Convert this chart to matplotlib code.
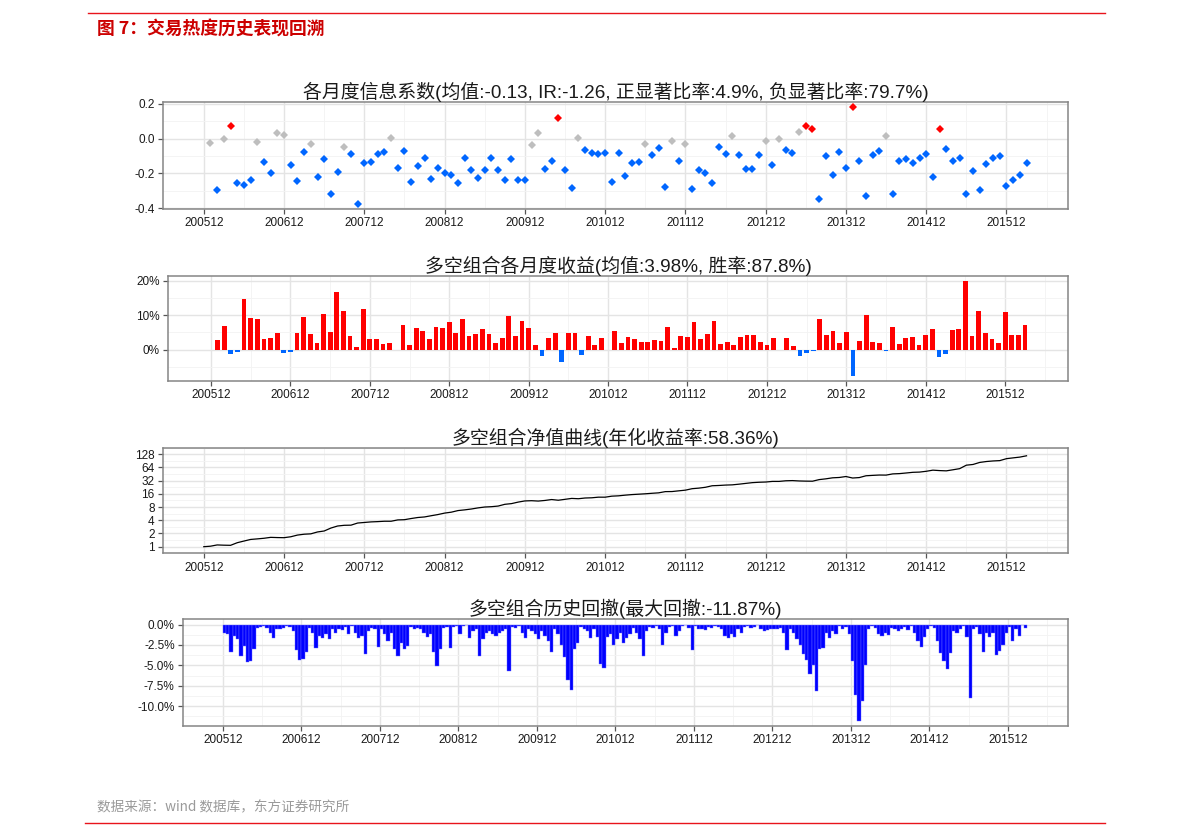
import matplotlib
matplotlib.use('Agg')
import matplotlib.pyplot as plt
from matplotlib.ticker import FuncFormatter, NullFormatter
import numpy as np

plt.rcParams['font.family'] = ['Liberation Sans', 'Noto Sans CJK SC']
plt.rcParams['axes.unicode_minus'] = False

# x positions: month index, 0 = 2005-12, 1 = 2006-01 ... 123 = 2016-03
year_ticks = [0, 12, 24, 36, 48, 60, 72, 84, 96, 108, 120]
year_labels = ['200512', '200612', '200712', '200812', '200912', '201012',
               '201112', '201212', '201312', '201412', '201512']

# monthly IC, 2006-01 .. 2016-03
ic_values = [
    -0.025, -0.297, -0.004, 0.074, -0.253, -0.267, -0.236, -0.019, -0.137, -0.198, 0.030, 0.021,
    -0.152, -0.242, -0.076, -0.029, -0.219, -0.120, -0.320, -0.192, -0.048, -0.091, -0.375, -0.141,
    -0.137, -0.086, -0.076, 0.002, -0.170, -0.070, -0.250, -0.158, -0.114, -0.230, -0.170, -0.196,
    -0.210, -0.253, -0.109, -0.181, -0.225, -0.181, -0.114, -0.181, -0.236, -0.120, -0.236, -0.236,
    -0.038, 0.030, -0.175, -0.130, 0.118, -0.181, -0.282, 0.002, -0.065, -0.082, -0.091, -0.082,
    -0.248, -0.082, -0.213, -0.141, -0.135, -0.029, -0.093, -0.053, -0.280, -0.013, -0.126, -0.034,
    -0.288, -0.179, -0.196, -0.253, -0.048, -0.086, 0.013, -0.093, -0.173, -0.173, -0.093, -0.015,
    -0.149, 0.000, -0.065, -0.082, 0.040, 0.069, 0.057, -0.347, -0.099, -0.208, -0.076, -0.168,
    0.179, -0.130, -0.326, -0.093, -0.070, 0.013, -0.318, -0.130, -0.120, -0.141, -0.109, -0.086,
    -0.219, 0.057, -0.059, -0.126, -0.114, -0.318, -0.185, -0.292, -0.147, -0.114, -0.099, -0.270,
    -0.236, -0.208, -0.141,
]
# 1 = positively significant, -1 = negatively significant, 0 = not significant
ic_sig = [
    0, -1, 0, 1, -1, -1, -1, 0, -1, -1, 0, 0,
    -1, -1, -1, 0, -1, -1, -1, -1, 0, -1, -1, -1,
    -1, -1, -1, 0, -1, -1, -1, -1, -1, -1, -1, -1,
    -1, -1, -1, -1, -1, -1, -1, -1, -1, -1, -1, -1,
    0, 0, -1, -1, 1, -1, -1, 0, -1, -1, -1, -1,
    -1, -1, -1, -1, -1, 0, -1, -1, -1, 0, -1, 0,
    -1, -1, -1, -1, -1, -1, 0, -1, -1, -1, -1, 0,
    -1, 0, -1, -1, 0, 1, 1, -1, -1, -1, -1, -1,
    1, -1, -1, -1, -1, 0, -1, -1, -1, -1, -1, -1,
    -1, 1, -1, -1, -1, -1, -1, -1, -1, -1, -1, -1,
    -1, -1, -1,
]

# long-short monthly return (%), 2006-01 .. 2016-03
ret_values = [
    2.7, 6.8, -1.3, -0.7, 14.7, 9.1, 8.8, 3.0, 3.3, 4.9, -1.1, -0.6,
    4.9, 9.3, 4.6, 2.0, 10.4, 5.2, 16.7, 11.3, 3.8, 0.7, 11.9, 3.0,
    3.0, 1.5, 2.0, 0.02, 7.2, 1.2, 6.3, 5.5, 3.0, 6.6, 6.3, 8.0,
    4.9, 8.8, 3.8, 4.6, 6.1, 4.6, 1.8, 3.3, 9.6, 3.8, 8.3, 6.3,
    1.2, -1.9, 3.3, 4.9, -3.6, 4.9, 4.9, -1.6, 3.8, 1.2, 3.3, -0.1,
    5.5, 1.8, 3.6, 3.0, 2.1, 2.1, 2.7, 2.4, 6.6, 0.4, 3.8, 3.6,
    8.0, 3.0, 4.6, 8.3, 1.5, 2.1, 1.2, 3.6, 4.1, 4.1, 2.1, 1.2,
    3.3, 0.02, 3.3, 1.0, -1.9, -0.9, -0.4, 8.8, 4.1, 5.5, 1.8, 5.2,
    -7.6, 2.4, 9.9, 2.1, 1.8, -0.4, 6.6, 1.5, 3.3, 3.6, 1.2, 4.3,
    6.1, -2.2, -1.4, 5.8, 6.1, 20.0, 3.8, 11.3, 4.9, 3.0, 1.8, 10.8,
    4.3, 4.1, 7.1,
]

# drawdown (%), two readings per month, 2006-01 .. 2016-03
dd_values = [
    -1.0, -1.2, -3.3, -1.4, -1.8, -3.9, -2.6, -4.6, -4.5, -3.0, -0.4, -0.3,
    -0.2, -0.4, -1.0, -1.6, -0.5, -0.6, -0.4, -0.2, -0.3, -0.8, -3.1, -4.4,
    -4.2, -3.3, -0.4, -1.0, -2.9, -1.4, -1.6, -1.2, -1.8, -0.6, -1.0, -0.5,
    -0.7, -0.3, -1.2, -0.2, -1.0, -1.6, -1.4, -3.6, -0.8, -0.4, -0.5, -2.8,
    -0.5, -1.2, -2.0, -1.0, -3.0, -3.8, -2.2, -3.0, -2.6, -0.3, -0.5, -0.4,
    -0.6, -1.0, -1.5, -1.2, -3.3, -5.1, -3.0, -0.4, -0.3, -2.9, -0.3, -0.2,
    -1.2, -0.2, -0.1, -1.6, -0.8, -0.6, -3.8, -1.8, -1.0, -0.8, -1.2, -1.4,
    -1.0, -0.8, -0.6, -5.7, -0.3, -0.4, -0.2, -1.0, -1.6, -0.6, -0.8, -1.2,
    -1.8, -0.8, -1.4, -2.0, -3.3, -0.6, -1.2, -2.5, -4.0, -6.8, -8.0, -3.0,
    -2.3, -0.3, -0.5, -0.8, -1.6, -0.6, -1.5, -4.8, -5.3, -1.5, -1.2, -2.5,
    -1.8, -1.0, -2.3, -1.6, -1.2, -0.4, -1.0, -1.8, -3.9, -0.8, -0.3, -0.4,
    -0.2, -0.5, -2.5, -1.0, -0.3, -0.2, -1.4, -0.8, -0.2, -0.1, -0.4, -3.1,
    -0.2, -0.6, -0.5, -0.7, -0.3, -0.4, -0.2, -0.3, -0.6, -1.4, -1.6, -1.2,
    -1.5, -0.6, -1.0, -0.3, -0.2, -0.4, -0.3, -0.1, -0.6, -0.8, -0.7, -0.5,
    -0.5, -0.6, -0.4, -1.0, -3.1, -0.6, -1.0, -1.8, -2.5, -3.6, -4.4, -6.1,
    -5.0, -8.2, -3.0, -2.9, -1.0, -1.6, -0.8, -1.2, -0.2, -0.5, -0.3, -1.2,
    -4.5, -8.6, -11.87, -9.4, -5.0, -0.5, -0.2, -0.4, -1.2, -1.4, -1.0, -1.3,
    -0.4, -0.6, -0.8, -0.5, -0.3, -0.7, -0.2, -1.0, -2.0, -2.7, -1.5, -0.6,
    -0.2, -0.4, -2.0, -3.5, -4.5, -5.5, -3.5, -0.8, -1.0, -0.6, -0.2, -1.5,
    -9.0, -0.5, -0.3, -1.2, -3.3, -1.0, -1.5, -1.0, -3.7, -3.2, -2.5, -1.0,
    -0.3, -2.0, -0.6, -1.4, -0.05, -0.4,
]

title_ic = '各月度信息系数(均值:-0.13, IR:-1.26, 正显著比率:4.9%, 负显著比率:79.7%)'
title_ret = '多空组合各月度收益(均值:3.98%, 胜率:87.8%)'
title_nav = '多空组合净值曲线(年化收益率:58.36%)'
title_dd = '多空组合历史回撤(最大回撤:-11.87%)'

RED = '#FF0000'
BLUE = '#0066FF'
GRAY = '#BEBEBE'


def style_axis(ax, title, xlim=(-6.1, 129.2)):
    for sp in ax.spines.values():
        sp.set_color('#858585')
        sp.set_linewidth(1.1)
    ax.set_xlim(*xlim)
    ax.set_xticks(year_ticks)
    ax.set_xticklabels(year_labels)
    ax.set_xticks(np.arange(6, 130, 12), minor=True)
    ax.xaxis.set_minor_formatter(NullFormatter())
    ax.grid(which='major', color='#E4E4E4', linewidth=1.0)
    ax.grid(which='minor', color='#F3F3F3', linewidth=0.6)
    ax.set_axisbelow(True)
    ax.tick_params(which='major', length=3.5, width=0.9, color='#555555',
                   labelsize=8.5, labelcolor='#1a1a1a', pad=2.5)
    ax.tick_params(which='minor', length=0)
    ax.set_title(title, fontsize=13.6, color='#1a1a1a', pad=3)


fig = plt.figure(figsize=(11.91, 8.35), dpi=100)

# panel 1: monthly IC
ax1 = fig.add_axes([163 / 1191, 1 - 209 / 835, 905 / 1191, 106.7 / 835])
months = np.arange(1, len(ic_values) + 1)
ic = np.array(ic_values)
sig = np.array(ic_sig)
for code, col in [(0, GRAY), (-1, BLUE), (1, RED)]:
    m = sig == code
    ax1.plot(months[m], ic[m], 'D', color=col, markersize=4.2, markeredgewidth=0, zorder=3)
ax1.set_ylim(-0.403, 0.207)
ax1.set_yticks([-0.4, -0.2, 0.0, 0.2])
ax1.set_yticks([-0.3, -0.1, 0.1], minor=True)
ax1.yaxis.set_major_formatter(FuncFormatter(lambda v, p: '%.1f' % v))
style_axis(ax1, title_ic)

# panel 2: monthly long-short return
ax2 = fig.add_axes([168 / 1191, 1 - 380.7 / 835, 900 / 1191, 105 / 835])
ret = np.array(ret_values)
ax2.bar(months, ret, width=0.72, color=np.where(ret >= 0, RED, BLUE), linewidth=0, zorder=3)
ax2.set_ylim(-9.0, 21.4)
ax2.set_yticks([0, 10, 20])
ax2.set_yticks([-5, 5, 15], minor=True)
ax2.yaxis.set_major_formatter(FuncFormatter(lambda v, p: '%d%%' % v))
style_axis(ax2, title_ret, xlim=(-6.5, 129.5))

# panel 3: net value curve (log2)
ax3 = fig.add_axes([163 / 1191, 1 - 553.3 / 835, 905 / 1191, 105.6 / 835])
nav = np.concatenate([[1.0], np.cumprod(1 + ret / 100)])
ax3.plot(np.arange(len(nav)), nav, color='black', linewidth=0.9, zorder=3)
ax3.set_yscale('log', base=2)
ax3.set_ylim(2 ** -0.28, 2 ** 7.11)
ax3.set_yticks([1, 2, 4, 8, 16, 32, 64, 128])
ax3.set_yticks([2 ** (k + 0.5) for k in range(-1, 8)], minor=True)
ax3.yaxis.set_major_formatter(FuncFormatter(lambda v, p: '%d' % v))
ax3.yaxis.set_minor_formatter(NullFormatter())
style_axis(ax3, title_nav)

# panel 4: drawdown
ax4 = fig.add_axes([183 / 1191, 1 - 725.7 / 835, 885 / 1191, 106.4 / 835])
dd_x = np.arange(len(dd_values)) * 0.5 + 0.25
ax4.bar(dd_x, dd_values, width=0.5, color='#0000FF', edgecolor='#6A6AFF', linewidth=0.3, zorder=3)
ax4.set_ylim(-12.4, 0.65)
ax4.set_yticks([-10, -7.5, -5, -2.5, 0])
ax4.set_yticks([-11.25, -8.75, -6.25, -3.75, -1.25], minor=True)
ax4.yaxis.set_major_formatter(FuncFormatter(lambda v, p: '%.1f%%' % v))
style_axis(ax4, title_dd)

# header and footer
fig.add_artist(plt.Line2D([88 / 1191, 1105 / 1191], [1 - 13 / 835] * 2, color='#E8141B', linewidth=1.0))
fig.text(97 / 1191, 1 - 30 / 835, '图 7：交易热度历史表现回溯', color='#CC0000', fontsize=12.8,
         fontweight='bold', family=['Noto Sans CJK SC'], va='center', ha='left')
fig.text(97 / 1191, 1 - 807 / 835, '数据来源：wind 数据库，东方证券研究所', color='#9A9A9A', fontsize=9.8,
         family=['Noto Sans CJK SC'], va='center', ha='left')
fig.add_artist(plt.Line2D([85 / 1191, 1105 / 1191], [1 - 823 / 835] * 2, color='#E8141B', linewidth=1.0))

fig.savefig('out.png', dpi=100)
